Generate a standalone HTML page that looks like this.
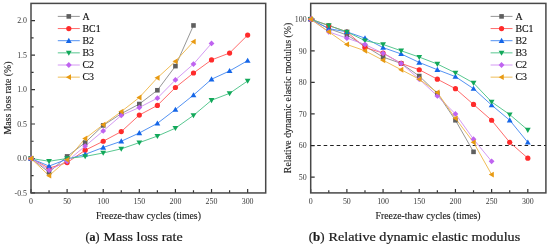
<!DOCTYPE html>
<html><head><meta charset="utf-8">
<style>
html,body{margin:0;padding:0;background:#fff;width:550px;height:246px;overflow:hidden}
svg{display:block;will-change:transform}
text{font-family:"Liberation Serif", serif;fill:#222}
.tk{font-size:7.9px;fill:#3a3a3a}
.lb{font-size:10px;fill:#1a1a1a;stroke:#1a1a1a;stroke-width:0.12}
.lg{font-size:9.9px;fill:#111;stroke:#111;stroke-width:0.15}
.cap{font-size:12.8px;fill:#1a1a1a;stroke:#1a1a1a;stroke-width:0.2}
</style></head><body>
<svg width="550" height="246" viewBox="0 0 550 246">
<rect width="550" height="246" fill="#fff"/>
<path d="M31 192.95V188.95M49.05 192.95V190.35M67.11 192.95V188.95M85.16 192.95V190.35M103.22 192.95V188.95M121.27 192.95V190.35M139.32 192.95V188.95M157.38 192.95V190.35M175.43 192.95V188.95M193.48 192.95V190.35M211.54 192.95V188.95M229.59 192.95V190.35M247.65 192.95V188.95M31 192.95H35M31 175.72H33.6M31 158.49H35M31 141.25H33.6M31 124.02H35M31 106.79H33.6M31 89.56H35M31 72.33H33.6M31 55.1H35M31 37.86H33.6M31 20.63H35" stroke="#333" stroke-width="1.2" fill="none"/>
<rect x="31" y="3.4" width="234.7" height="189.55" fill="none" stroke="#484848" stroke-width="1.5"/>
<polyline points="31,158.49 49.05,172.27 67.11,156.42 85.16,142.63 103.22,125.4 121.27,113.68 139.32,104.03 157.38,90.25 175.43,66.12 193.48,25.46" fill="none" stroke="#8a8a8a" stroke-width="0.9"/>
<polyline points="31,158.49 49.05,168.14 67.11,162.62 85.16,150.22 103.22,141.25 121.27,131.6 139.32,115.06 157.38,105.41 175.43,87.49 193.48,73.02 211.54,59.92 229.59,53.03 247.65,35.11" fill="none" stroke="#ff5a5a" stroke-width="0.9"/>
<polyline points="31,158.49 49.05,166.07 67.11,159.18 85.16,154.35 103.22,147.46 121.27,141.25 139.32,132.98 157.38,123.33 175.43,109.55 193.48,95.07 211.54,79.22 229.59,70.95 247.65,60.61" fill="none" stroke="#3f86f0" stroke-width="0.9"/>
<polyline points="31,158.49 49.05,161.24 67.11,158.49 85.16,156.42 103.22,152.97 121.27,148.84 139.32,142.63 157.38,136.08 175.43,128.16 193.48,115.41 211.54,100.24 229.59,93.35 247.65,80.94" fill="none" stroke="#45c183" stroke-width="0.9"/>
<polyline points="31,158.49 49.05,170.2 67.11,161.24 85.16,146.08 103.22,130.92 121.27,115.41 139.32,107.48 157.38,98.17 175.43,79.91 193.48,64.06 211.54,43.38" fill="none" stroke="#cf8ef2" stroke-width="0.9"/>
<polyline points="31,158.49 49.05,175.72 67.11,159.86 85.16,138.5 103.22,124.71 121.27,111.62 139.32,97.49 157.38,77.84 175.43,61.3 193.48,41.65" fill="none" stroke="#eeb545" stroke-width="0.9"/>
<rect x="28.7" y="156.19" width="4.6" height="4.6" fill="#5f5f5f"/>
<rect x="46.75" y="169.97" width="4.6" height="4.6" fill="#5f5f5f"/>
<rect x="64.81" y="154.12" width="4.6" height="4.6" fill="#5f5f5f"/>
<rect x="82.86" y="140.33" width="4.6" height="4.6" fill="#5f5f5f"/>
<rect x="100.92" y="123.1" width="4.6" height="4.6" fill="#5f5f5f"/>
<rect x="118.97" y="111.38" width="4.6" height="4.6" fill="#5f5f5f"/>
<rect x="137.02" y="101.73" width="4.6" height="4.6" fill="#5f5f5f"/>
<rect x="155.08" y="87.95" width="4.6" height="4.6" fill="#5f5f5f"/>
<rect x="173.13" y="63.82" width="4.6" height="4.6" fill="#5f5f5f"/>
<rect x="191.18" y="23.16" width="4.6" height="4.6" fill="#5f5f5f"/>
<circle cx="31" cy="158.49" r="2.6" fill="#ff2b2b"/>
<circle cx="49.05" cy="168.14" r="2.6" fill="#ff2b2b"/>
<circle cx="67.11" cy="162.62" r="2.6" fill="#ff2b2b"/>
<circle cx="85.16" cy="150.22" r="2.6" fill="#ff2b2b"/>
<circle cx="103.22" cy="141.25" r="2.6" fill="#ff2b2b"/>
<circle cx="121.27" cy="131.6" r="2.6" fill="#ff2b2b"/>
<circle cx="139.32" cy="115.06" r="2.6" fill="#ff2b2b"/>
<circle cx="157.38" cy="105.41" r="2.6" fill="#ff2b2b"/>
<circle cx="175.43" cy="87.49" r="2.6" fill="#ff2b2b"/>
<circle cx="193.48" cy="73.02" r="2.6" fill="#ff2b2b"/>
<circle cx="211.54" cy="59.92" r="2.6" fill="#ff2b2b"/>
<circle cx="229.59" cy="53.03" r="2.6" fill="#ff2b2b"/>
<circle cx="247.65" cy="35.11" r="2.6" fill="#ff2b2b"/>
<path d="M31 155.59L33.9 160.66L28.1 160.66Z" fill="#1566e8"/>
<path d="M49.05 163.17L51.95 168.24L46.15 168.24Z" fill="#1566e8"/>
<path d="M67.11 156.28L70.01 161.35L64.21 161.35Z" fill="#1566e8"/>
<path d="M85.16 151.45L88.06 156.53L82.26 156.53Z" fill="#1566e8"/>
<path d="M103.22 144.56L106.12 149.63L100.32 149.63Z" fill="#1566e8"/>
<path d="M121.27 138.35L124.17 143.43L118.37 143.43Z" fill="#1566e8"/>
<path d="M139.32 130.08L142.22 135.16L136.42 135.16Z" fill="#1566e8"/>
<path d="M157.38 120.43L160.28 125.51L154.48 125.51Z" fill="#1566e8"/>
<path d="M175.43 106.65L178.33 111.72L172.53 111.72Z" fill="#1566e8"/>
<path d="M193.48 92.17L196.38 97.25L190.58 97.25Z" fill="#1566e8"/>
<path d="M211.54 76.32L214.44 81.39L208.64 81.39Z" fill="#1566e8"/>
<path d="M229.59 68.05L232.49 73.12L226.69 73.12Z" fill="#1566e8"/>
<path d="M247.65 57.71L250.55 62.78L244.75 62.78Z" fill="#1566e8"/>
<path d="M31 161.39L33.9 156.31L28.1 156.31Z" fill="#12a85a"/>
<path d="M49.05 164.14L51.95 159.07L46.15 159.07Z" fill="#12a85a"/>
<path d="M67.11 161.39L70.01 156.31L64.21 156.31Z" fill="#12a85a"/>
<path d="M85.16 159.32L88.06 154.24L82.26 154.24Z" fill="#12a85a"/>
<path d="M103.22 155.87L106.12 150.8L100.32 150.8Z" fill="#12a85a"/>
<path d="M121.27 151.74L124.17 146.66L118.37 146.66Z" fill="#12a85a"/>
<path d="M139.32 145.53L142.22 140.46L136.42 140.46Z" fill="#12a85a"/>
<path d="M157.38 138.98L160.28 133.91L154.48 133.91Z" fill="#12a85a"/>
<path d="M175.43 131.06L178.33 125.98L172.53 125.98Z" fill="#12a85a"/>
<path d="M193.48 118.31L196.38 113.23L190.58 113.23Z" fill="#12a85a"/>
<path d="M211.54 103.14L214.44 98.07L208.64 98.07Z" fill="#12a85a"/>
<path d="M229.59 96.25L232.49 91.18L226.69 91.18Z" fill="#12a85a"/>
<path d="M247.65 83.84L250.55 78.77L244.75 78.77Z" fill="#12a85a"/>
<path d="M31 155.59L33.9 158.49L31 161.39L28.1 158.49Z" fill="#bf63f0"/>
<path d="M49.05 167.3L51.95 170.2L49.05 173.1L46.15 170.2Z" fill="#bf63f0"/>
<path d="M67.11 158.34L70.01 161.24L67.11 164.14L64.21 161.24Z" fill="#bf63f0"/>
<path d="M85.16 143.18L88.06 146.08L85.16 148.98L82.26 146.08Z" fill="#bf63f0"/>
<path d="M103.22 128.02L106.12 130.92L103.22 133.82L100.32 130.92Z" fill="#bf63f0"/>
<path d="M121.27 112.51L124.17 115.41L121.27 118.31L118.37 115.41Z" fill="#bf63f0"/>
<path d="M139.32 104.58L142.22 107.48L139.32 110.38L136.42 107.48Z" fill="#bf63f0"/>
<path d="M157.38 95.27L160.28 98.17L157.38 101.08L154.48 98.17Z" fill="#bf63f0"/>
<path d="M175.43 77.01L178.33 79.91L175.43 82.81L172.53 79.91Z" fill="#bf63f0"/>
<path d="M193.48 61.16L196.38 64.06L193.48 66.96L190.58 64.06Z" fill="#bf63f0"/>
<path d="M211.54 40.48L214.44 43.38L211.54 46.28L208.64 43.38Z" fill="#bf63f0"/>
<path d="M28.1 158.49L33.17 155.59L33.17 161.39Z" fill="#e89a12"/>
<path d="M46.15 175.72L51.23 172.82L51.23 178.62Z" fill="#e89a12"/>
<path d="M64.21 159.86L69.28 156.96L69.28 162.76Z" fill="#e89a12"/>
<path d="M82.26 138.5L87.34 135.6L87.34 141.4Z" fill="#e89a12"/>
<path d="M100.32 124.71L105.39 121.81L105.39 127.61Z" fill="#e89a12"/>
<path d="M118.37 111.62L123.44 108.72L123.44 114.52Z" fill="#e89a12"/>
<path d="M136.42 97.49L141.5 94.59L141.5 100.39Z" fill="#e89a12"/>
<path d="M154.48 77.84L159.55 74.94L159.55 80.74Z" fill="#e89a12"/>
<path d="M172.53 61.3L177.61 58.4L177.61 64.2Z" fill="#e89a12"/>
<path d="M190.58 41.65L195.66 38.75L195.66 44.55Z" fill="#e89a12"/>
<text x="31" y="203.75" text-anchor="middle" class="tk">0</text>
<text x="67.11" y="203.75" text-anchor="middle" class="tk">50</text>
<text x="103.22" y="203.75" text-anchor="middle" class="tk">100</text>
<text x="139.32" y="203.75" text-anchor="middle" class="tk">150</text>
<text x="175.43" y="203.75" text-anchor="middle" class="tk">200</text>
<text x="211.54" y="203.75" text-anchor="middle" class="tk">250</text>
<text x="247.65" y="203.75" text-anchor="middle" class="tk">300</text>
<text x="27" y="195.75" text-anchor="end" class="tk">-0.5</text>
<text x="27" y="161.29" text-anchor="end" class="tk">0.0</text>
<text x="27" y="126.82" text-anchor="end" class="tk">0.5</text>
<text x="27" y="92.36" text-anchor="end" class="tk">1.0</text>
<text x="27" y="57.9" text-anchor="end" class="tk">1.5</text>
<text x="27" y="23.43" text-anchor="end" class="tk">2.0</text>
<text transform="translate(10.5 98) rotate(-90)" text-anchor="middle" class="lb" textLength="73" lengthAdjust="spacingAndGlyphs">Mass loss rate (%)</text>
<text x="148.4" y="218.8" text-anchor="middle" class="lb" textLength="105" lengthAdjust="spacingAndGlyphs">Freeze-thaw cycles (times)</text>
<path d="M57.8 16.4H79.8" stroke="#8a8a8a" stroke-width="0.9"/>
<rect x="66.5" y="14.1" width="4.6" height="4.6" fill="#5f5f5f"/>
<text x="82.5" y="19.7" class="lg">A</text>
<path d="M57.8 28.55H79.8" stroke="#ff5a5a" stroke-width="0.9"/>
<circle cx="68.8" cy="28.55" r="2.6" fill="#ff2b2b"/>
<text x="82.5" y="31.85" class="lg">BC1</text>
<path d="M57.8 40.7H79.8" stroke="#3f86f0" stroke-width="0.9"/>
<path d="M68.8 37.8L71.7 42.88L65.9 42.88Z" fill="#1566e8"/>
<text x="82.5" y="44" class="lg">B2</text>
<path d="M57.8 52.85H79.8" stroke="#45c183" stroke-width="0.9"/>
<path d="M68.8 55.75L71.7 50.68L65.9 50.68Z" fill="#12a85a"/>
<text x="82.5" y="56.15" class="lg">B3</text>
<path d="M57.8 65H79.8" stroke="#cf8ef2" stroke-width="0.9"/>
<path d="M68.8 62.1L71.7 65L68.8 67.9L65.9 65Z" fill="#bf63f0"/>
<text x="82.5" y="68.3" class="lg">C2</text>
<path d="M57.8 77.15H79.8" stroke="#eeb545" stroke-width="0.9"/>
<path d="M65.9 77.15L70.97 74.25L70.97 80.05Z" fill="#e89a12"/>
<text x="82.5" y="80.45" class="lg">C3</text>
<path d="M310.7 192.9V188.9M328.79 192.9V190.3M346.88 192.9V188.9M364.98 192.9V190.3M383.07 192.9V188.9M401.16 192.9V190.3M419.25 192.9V188.9M437.35 192.9V190.3M455.44 192.9V188.9M473.53 192.9V190.3M491.62 192.9V188.9M509.72 192.9V190.3M527.81 192.9V188.9M310.7 177.11H314.7M310.7 145.53H314.7M310.7 113.94H314.7M310.7 82.36H314.7M310.7 50.78H314.7M310.7 19.19H314.7" stroke="#333" stroke-width="1.2" fill="none"/>
<rect x="310.7" y="3.4" width="235.2" height="189.5" fill="none" stroke="#484848" stroke-width="1.5"/>
<path d="M310.7 145.53H545.9" stroke="#222" stroke-width="1.1" stroke-dasharray="3.6 2.88" fill="none"/>
<polyline points="310.7,19.19 328.79,28.67 346.88,34.98 364.98,46.04 383.07,57.09 401.16,63.41 419.25,76.04 437.35,93.41 455.44,120.26 473.53,151.84" fill="none" stroke="#8a8a8a" stroke-width="0.9"/>
<polyline points="310.7,19.19 328.79,25.51 346.88,31.83 364.98,47.62 383.07,52.99 401.16,63.41 419.25,69.73 437.35,79.2 455.44,88.68 473.53,104.47 491.62,120.26 509.72,142.37 527.81,158.16" fill="none" stroke="#ff5a5a" stroke-width="0.9"/>
<polyline points="310.7,19.19 328.79,28.67 346.88,31.83 364.98,38.14 383.07,47.62 401.16,53.93 419.25,62.46 437.35,69.73 455.44,76.67 473.53,88.68 491.62,105.1 509.72,120.26 527.81,142.37" fill="none" stroke="#3f86f0" stroke-width="0.9"/>
<polyline points="310.7,19.19 328.79,25.51 346.88,31.83 364.98,40.67 383.07,44.46 401.16,50.78 419.25,57.09 437.35,64.04 455.44,72.88 473.53,82.99 491.62,101.94 509.72,114.57 527.81,130.05" fill="none" stroke="#45c183" stroke-width="0.9"/>
<polyline points="310.7,19.19 328.79,31.83 346.88,38.14 364.98,44.46 383.07,53.3 401.16,63.41 419.25,79.2 437.35,95.94 455.44,113.94 473.53,139.21 491.62,161.32" fill="none" stroke="#cf8ef2" stroke-width="0.9"/>
<polyline points="310.7,19.19 328.79,31.83 346.88,44.46 364.98,50.78 383.07,60.25 401.16,69.73 419.25,79.2 437.35,92.47 455.44,118.36 473.53,142.37 491.62,174.58" fill="none" stroke="#eeb545" stroke-width="0.9"/>
<rect x="308.4" y="16.89" width="4.6" height="4.6" fill="#5f5f5f"/>
<rect x="326.49" y="26.37" width="4.6" height="4.6" fill="#5f5f5f"/>
<rect x="344.58" y="32.68" width="4.6" height="4.6" fill="#5f5f5f"/>
<rect x="362.68" y="43.74" width="4.6" height="4.6" fill="#5f5f5f"/>
<rect x="380.77" y="54.79" width="4.6" height="4.6" fill="#5f5f5f"/>
<rect x="398.86" y="61.11" width="4.6" height="4.6" fill="#5f5f5f"/>
<rect x="416.95" y="73.74" width="4.6" height="4.6" fill="#5f5f5f"/>
<rect x="435.05" y="91.11" width="4.6" height="4.6" fill="#5f5f5f"/>
<rect x="453.14" y="117.96" width="4.6" height="4.6" fill="#5f5f5f"/>
<rect x="471.23" y="149.54" width="4.6" height="4.6" fill="#5f5f5f"/>
<circle cx="310.7" cy="19.19" r="2.6" fill="#ff2b2b"/>
<circle cx="328.79" cy="25.51" r="2.6" fill="#ff2b2b"/>
<circle cx="346.88" cy="31.83" r="2.6" fill="#ff2b2b"/>
<circle cx="364.98" cy="47.62" r="2.6" fill="#ff2b2b"/>
<circle cx="383.07" cy="52.99" r="2.6" fill="#ff2b2b"/>
<circle cx="401.16" cy="63.41" r="2.6" fill="#ff2b2b"/>
<circle cx="419.25" cy="69.73" r="2.6" fill="#ff2b2b"/>
<circle cx="437.35" cy="79.2" r="2.6" fill="#ff2b2b"/>
<circle cx="455.44" cy="88.68" r="2.6" fill="#ff2b2b"/>
<circle cx="473.53" cy="104.47" r="2.6" fill="#ff2b2b"/>
<circle cx="491.62" cy="120.26" r="2.6" fill="#ff2b2b"/>
<circle cx="509.72" cy="142.37" r="2.6" fill="#ff2b2b"/>
<circle cx="527.81" cy="158.16" r="2.6" fill="#ff2b2b"/>
<path d="M310.7 16.29L313.6 21.37L307.8 21.37Z" fill="#1566e8"/>
<path d="M328.79 25.77L331.69 30.84L325.89 30.84Z" fill="#1566e8"/>
<path d="M346.88 28.93L349.78 34L343.98 34Z" fill="#1566e8"/>
<path d="M364.98 35.24L367.88 40.32L362.08 40.32Z" fill="#1566e8"/>
<path d="M383.07 44.72L385.97 49.79L380.17 49.79Z" fill="#1566e8"/>
<path d="M401.16 51.03L404.06 56.11L398.26 56.11Z" fill="#1566e8"/>
<path d="M419.25 59.56L422.15 64.64L416.35 64.64Z" fill="#1566e8"/>
<path d="M437.35 66.83L440.25 71.9L434.45 71.9Z" fill="#1566e8"/>
<path d="M455.44 73.77L458.34 78.85L452.54 78.85Z" fill="#1566e8"/>
<path d="M473.53 85.78L476.43 90.85L470.63 90.85Z" fill="#1566e8"/>
<path d="M491.62 102.2L494.52 107.27L488.72 107.27Z" fill="#1566e8"/>
<path d="M509.72 117.36L512.62 122.43L506.82 122.43Z" fill="#1566e8"/>
<path d="M527.81 139.47L530.71 144.54L524.91 144.54Z" fill="#1566e8"/>
<path d="M310.7 22.09L313.6 17.02L307.8 17.02Z" fill="#12a85a"/>
<path d="M328.79 28.41L331.69 23.33L325.89 23.33Z" fill="#12a85a"/>
<path d="M346.88 34.73L349.78 29.65L343.98 29.65Z" fill="#12a85a"/>
<path d="M364.98 43.57L367.88 38.49L362.08 38.49Z" fill="#12a85a"/>
<path d="M383.07 47.36L385.97 42.28L380.17 42.28Z" fill="#12a85a"/>
<path d="M401.16 53.68L404.06 48.6L398.26 48.6Z" fill="#12a85a"/>
<path d="M419.25 59.99L422.15 54.92L416.35 54.92Z" fill="#12a85a"/>
<path d="M437.35 66.94L440.25 61.87L434.45 61.87Z" fill="#12a85a"/>
<path d="M455.44 75.78L458.34 70.71L452.54 70.71Z" fill="#12a85a"/>
<path d="M473.53 85.89L476.43 80.82L470.63 80.82Z" fill="#12a85a"/>
<path d="M491.62 104.84L494.52 99.77L488.72 99.77Z" fill="#12a85a"/>
<path d="M509.72 117.47L512.62 112.4L506.82 112.4Z" fill="#12a85a"/>
<path d="M527.81 132.95L530.71 127.87L524.91 127.87Z" fill="#12a85a"/>
<path d="M310.7 16.29L313.6 19.19L310.7 22.09L307.8 19.19Z" fill="#bf63f0"/>
<path d="M328.79 28.93L331.69 31.83L328.79 34.73L325.89 31.83Z" fill="#bf63f0"/>
<path d="M346.88 35.24L349.78 38.14L346.88 41.04L343.98 38.14Z" fill="#bf63f0"/>
<path d="M364.98 41.56L367.88 44.46L364.98 47.36L362.08 44.46Z" fill="#bf63f0"/>
<path d="M383.07 50.4L385.97 53.3L383.07 56.2L380.17 53.3Z" fill="#bf63f0"/>
<path d="M401.16 60.51L404.06 63.41L401.16 66.31L398.26 63.41Z" fill="#bf63f0"/>
<path d="M419.25 76.3L422.15 79.2L419.25 82.1L416.35 79.2Z" fill="#bf63f0"/>
<path d="M437.35 93.04L440.25 95.94L437.35 98.84L434.45 95.94Z" fill="#bf63f0"/>
<path d="M455.44 111.04L458.34 113.94L455.44 116.84L452.54 113.94Z" fill="#bf63f0"/>
<path d="M473.53 136.31L476.43 139.21L473.53 142.11L470.63 139.21Z" fill="#bf63f0"/>
<path d="M491.62 158.42L494.52 161.32L491.62 164.22L488.72 161.32Z" fill="#bf63f0"/>
<path d="M307.8 19.19L312.88 16.29L312.88 22.09Z" fill="#e89a12"/>
<path d="M325.89 31.83L330.97 28.93L330.97 34.73Z" fill="#e89a12"/>
<path d="M343.98 44.46L349.06 41.56L349.06 47.36Z" fill="#e89a12"/>
<path d="M362.08 50.78L367.15 47.88L367.15 53.68Z" fill="#e89a12"/>
<path d="M380.17 60.25L385.24 57.35L385.24 63.15Z" fill="#e89a12"/>
<path d="M398.26 69.73L403.34 66.83L403.34 72.63Z" fill="#e89a12"/>
<path d="M416.35 79.2L421.43 76.3L421.43 82.1Z" fill="#e89a12"/>
<path d="M434.45 92.47L439.52 89.57L439.52 95.37Z" fill="#e89a12"/>
<path d="M452.54 118.36L457.61 115.46L457.61 121.26Z" fill="#e89a12"/>
<path d="M470.63 142.37L475.71 139.47L475.71 145.27Z" fill="#e89a12"/>
<path d="M488.72 174.58L493.8 171.68L493.8 177.48Z" fill="#e89a12"/>
<text x="310.7" y="203.7" text-anchor="middle" class="tk">0</text>
<text x="346.88" y="203.7" text-anchor="middle" class="tk">50</text>
<text x="383.07" y="203.7" text-anchor="middle" class="tk">100</text>
<text x="419.25" y="203.7" text-anchor="middle" class="tk">150</text>
<text x="455.44" y="203.7" text-anchor="middle" class="tk">200</text>
<text x="491.62" y="203.7" text-anchor="middle" class="tk">250</text>
<text x="527.81" y="203.7" text-anchor="middle" class="tk">300</text>
<text x="306.7" y="179.91" text-anchor="end" class="tk">50</text>
<text x="306.7" y="148.33" text-anchor="end" class="tk">60</text>
<text x="306.7" y="116.74" text-anchor="end" class="tk">70</text>
<text x="306.7" y="85.16" text-anchor="end" class="tk">80</text>
<text x="306.7" y="53.58" text-anchor="end" class="tk">90</text>
<text x="306.7" y="21.99" text-anchor="end" class="tk">100</text>
<text transform="translate(290.5 97.9) rotate(-90)" text-anchor="middle" class="lb" textLength="150.5" lengthAdjust="spacingAndGlyphs">Relative dynamic elastic modulus (%)</text>
<text x="428.1" y="218.8" text-anchor="middle" class="lb" textLength="105" lengthAdjust="spacingAndGlyphs">Freeze-thaw cycles (times)</text>
<path d="M490.6 16.4H512.5" stroke="#8a8a8a" stroke-width="0.9"/>
<rect x="499.25" y="14.1" width="4.6" height="4.6" fill="#5f5f5f"/>
<text x="515.4" y="19.7" class="lg">A</text>
<path d="M490.6 28.55H512.5" stroke="#ff5a5a" stroke-width="0.9"/>
<circle cx="501.55" cy="28.55" r="2.6" fill="#ff2b2b"/>
<text x="515.4" y="31.85" class="lg">BC1</text>
<path d="M490.6 40.7H512.5" stroke="#3f86f0" stroke-width="0.9"/>
<path d="M501.55 37.8L504.45 42.88L498.65 42.88Z" fill="#1566e8"/>
<text x="515.4" y="44" class="lg">B2</text>
<path d="M490.6 52.85H512.5" stroke="#45c183" stroke-width="0.9"/>
<path d="M501.55 55.75L504.45 50.68L498.65 50.68Z" fill="#12a85a"/>
<text x="515.4" y="56.15" class="lg">B3</text>
<path d="M490.6 65H512.5" stroke="#cf8ef2" stroke-width="0.9"/>
<path d="M501.55 62.1L504.45 65L501.55 67.9L498.65 65Z" fill="#bf63f0"/>
<text x="515.4" y="68.3" class="lg">C2</text>
<path d="M490.6 77.15H512.5" stroke="#eeb545" stroke-width="0.9"/>
<path d="M498.65 77.15L503.73 74.25L503.73 80.05Z" fill="#e89a12"/>
<text x="515.4" y="80.45" class="lg">C3</text>
<text x="85.6" y="240.7" class="cap" textLength="14" lengthAdjust="spacingAndGlyphs">(<tspan font-weight="bold">a</tspan>)</text><text x="103.6" y="240.7" class="cap" textLength="79" lengthAdjust="spacingAndGlyphs">Mass loss rate</text>
<text x="308.8" y="240.7" class="cap" textLength="15.8" lengthAdjust="spacingAndGlyphs">(<tspan font-weight="bold">b</tspan>)</text><text x="328.6" y="240.7" class="cap" textLength="191.6" lengthAdjust="spacingAndGlyphs">Relative dynamic elastic modulus</text>
</svg>
</body></html>
